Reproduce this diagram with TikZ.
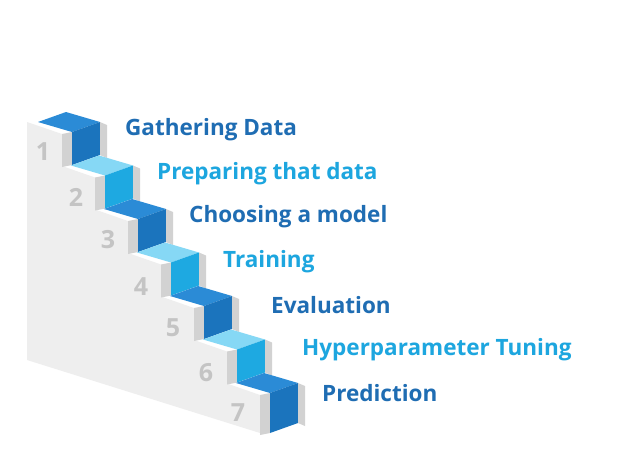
\documentclass[tikz,border=0pt]{standalone}
\usepackage{fontspec}
\setmainfont{Open Sans}
\definecolor{dkfront}{HTML}{1B74BD}
\definecolor{dktop}{HTML}{2B8BD6}
\definecolor{ltfront}{HTML}{1EA9E1}
\definecolor{lttop}{HTML}{86D8F5}
\definecolor{dktext}{HTML}{1F6DB3}
\definecolor{lttext}{HTML}{1DA6DF}
\definecolor{body}{HTML}{EEEEEE}
\definecolor{side}{HTML}{D2D2D2}
\definecolor{numc}{HTML}{C4C4C4}
\begin{document}
\begin{tikzpicture}[x=1pt,y=-1pt,
  lbl/.style={anchor=west,font=\fontsize{22.5}{26}\selectfont\bfseries,inner sep=0pt},
  num/.style={font=\fontsize{25}{28}\selectfont\bfseries,text=numc,inner sep=0pt}]
\useasboundingbox (0,0) rectangle (641,461);
\fill[white] (0,0) rectangle (641,461);
% body
\fill[body] (27,122)
  \foreach \k in {0,...,5}{ -- ({72+33*\k-10},{132+43.5*\k+2}) -- ({72+33*\k-10},{132+43.5*\k+34}) }
  -- (260,395) -- (260,433) -- (27,360) -- cycle;
\foreach \k in {0,...,6}{
  \pgfmathsetmacro{\px}{72+33*\k}
  \pgfmathsetmacro{\py}{132+43.5*\k}
  \pgfmathsetmacro{\hh}{ifthenelse(\k==6,40,33)}
  \ifodd\k \def\tc{lttop}\def\fc{ltfront}\else\def\tc{dktop}\def\fc{dkfront}\fi
  \fill[side] (\px-10,\py+2) -- (\px,\py) -- (\px,\py+\hh) -- (\px-10,\py+\hh+2) -- cycle;
  \fill[\tc] (\px,\py) -- (\px+28,\py-10) -- (\px-6,\py-20) -- (\px-34,\py-10) -- cycle;
  \fill[\fc] (\px,\py) -- (\px+28,\py-10) -- (\px+28,\py-10+\hh) -- (\px,\py+\hh) -- cycle;
  \fill[side] (\px+28,\py-10) -- (\px+35,\py-7) -- (\px+35,\py-7+\hh) -- (\px+28,\py-10+\hh) -- cycle;
}
\node[num] (n1) at (43,152) {1};
\node[num] (n2) at (76,197) {2};
\node[num] (n3) at (108,240) {3};
\node[num] (n4) at (141,287) {4};
\node[num] (n5) at (173,328) {5};
\node[num] (n6) at (206,373) {6};
\node[num] (n7) at (238,413) {7};
\node[lbl,text=dktext] (t1) at (125,130) {Gathering Data};
\node[lbl,text=lttext] (t2) at (157,174) {Preparing that data};
\node[lbl,text=dktext] (t3) at (189,217) {Choosing a model};
\node[lbl,text=lttext] (t4) at (223,262) {Training};
\node[lbl,text=dktext] (t5) at (271,305) {Evaluation};
\node[lbl,text=lttext] (t6) at (302,350) {Hyperparameter Tuning};
\node[lbl,text=dktext] (t7) at (322,393) {Prediction};
\end{tikzpicture}
\end{document}
